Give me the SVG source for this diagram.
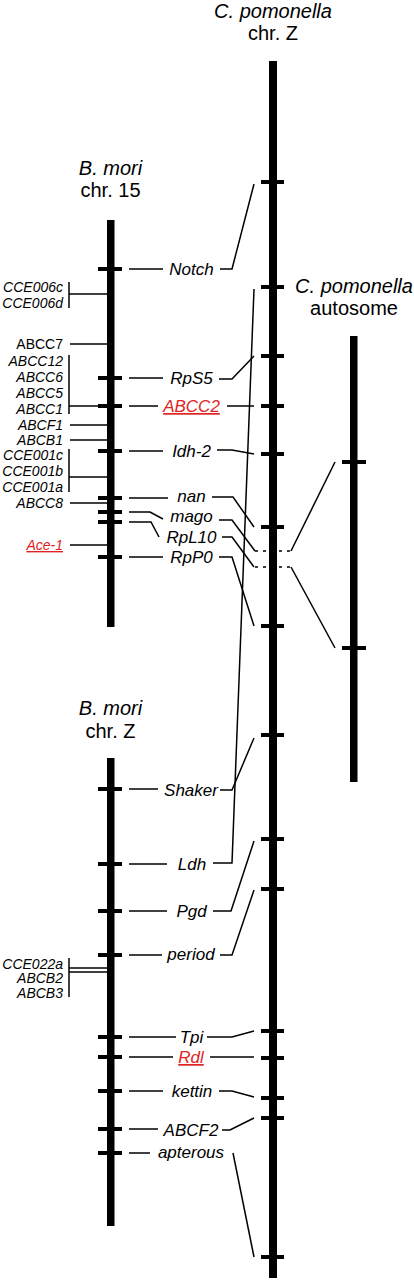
<svg xmlns="http://www.w3.org/2000/svg" width="414" height="1280" viewBox="0 0 414 1280">
<style>
.bar{fill:#000}
.tk{fill:#000}
.title{font-family:"Liberation Sans",Arial,sans-serif;font-size:20px;fill:#000;text-anchor:middle}
.it{font-style:italic}
.g{font-family:"Liberation Sans",Arial,sans-serif;font-size:17px;font-style:italic;fill:#000;text-anchor:middle}
.s{font-family:"Liberation Sans",Arial,sans-serif;font-size:14px;font-style:italic;fill:#000;text-anchor:end}
.up{font-style:normal}
.red{fill:#e02424;text-decoration:underline}
.ln{fill:none;stroke:#000;stroke-width:1.5}
.dash{fill:none;stroke:#000;stroke-width:1.5;stroke-dasharray:3,5}
</style>
<rect width="414" height="1280" fill="#fff"/>

<g id="cpom-z">
<text class="title" x="273" y="18"><tspan class="it">C. pomonella</tspan></text>
<text class="title" x="273" y="40">chr. Z</text>
<rect class="bar" x="269" y="61" width="8" height="1217"/>
<rect class="tk" x="261" y="180" width="23" height="4"/>
<rect class="tk" x="261" y="285" width="23" height="4"/>
<rect class="tk" x="261" y="354" width="23" height="4"/>
<rect class="tk" x="261" y="404" width="23" height="4"/>
<rect class="tk" x="261" y="452" width="23" height="4"/>
<rect class="tk" x="261" y="525" width="23" height="4"/>
<rect class="tk" x="261" y="624" width="23" height="4"/>
<rect class="tk" x="261" y="733" width="23" height="4"/>
<rect class="tk" x="261" y="837" width="23" height="4"/>
<rect class="tk" x="261" y="887" width="23" height="4"/>
<rect class="tk" x="261" y="1029" width="23" height="4"/>
<rect class="tk" x="261" y="1056" width="23" height="4"/>
<rect class="tk" x="261" y="1096" width="23" height="4"/>
<rect class="tk" x="261" y="1116" width="23" height="4"/>
<rect class="tk" x="261" y="1255" width="23" height="4"/>
</g>

<g id="cpom-auto">
<text class="title" x="354" y="293"><tspan class="it">C. pomonella</tspan></text>
<text class="title" x="354" y="315">autosome</text>
<rect class="bar" x="350" y="336" width="7.5" height="446"/>
<rect class="tk" x="342" y="460" width="24" height="4"/>
<rect class="tk" x="342" y="646" width="24" height="4"/>
</g>

<g id="bmori-15">
<text class="title" x="110.5" y="175"><tspan class="it">B. mori</tspan></text>
<text class="title" x="110.5" y="197">chr. 15</text>
<rect class="bar" x="107" y="220" width="7.5" height="407"/>
<rect class="tk" x="98" y="267" width="24" height="4"/>
<rect class="tk" x="98" y="376" width="24" height="4"/>
<rect class="tk" x="98" y="404" width="24" height="4"/>
<rect class="tk" x="98" y="449" width="24" height="4"/>
<rect class="tk" x="98" y="496" width="24" height="4"/>
<rect class="tk" x="98" y="510" width="24" height="4"/>
<rect class="tk" x="98" y="520" width="24" height="4"/>
<rect class="tk" x="98" y="555" width="24" height="4"/>
</g>

<g id="bmori-z">
<text class="title" x="110.5" y="715"><tspan class="it">B. mori</tspan></text>
<text class="title" x="110.5" y="738">chr. Z</text>
<rect class="bar" x="107" y="758" width="7.5" height="468"/>
<rect class="tk" x="98" y="787" width="24" height="4"/>
<rect class="tk" x="98" y="862" width="24" height="4"/>
<rect class="tk" x="98" y="909" width="24" height="4"/>
<rect class="tk" x="98" y="953" width="24" height="4"/>
<rect class="tk" x="98" y="1035" width="24" height="4"/>
<rect class="tk" x="98" y="1055" width="24" height="4"/>
<rect class="tk" x="98" y="1089" width="24" height="4"/>
<rect class="tk" x="98" y="1127" width="24" height="4"/>
<rect class="tk" x="98" y="1151" width="24" height="4"/>
</g>

<g id="bmori-15-left-labels">
<text class="s" x="63" y="292">CCE006c</text>
<text class="s" x="63" y="308">CCE006d</text>
<text class="s up" x="63" y="349">ABCC7</text>
<text class="s" x="63" y="366">ABCC12</text>
<text class="s" x="63" y="382">ABCC6</text>
<text class="s" x="63" y="398">ABCC5</text>
<text class="s" x="63" y="414">ABCC1</text>
<text class="s" x="63" y="430">ABCF1</text>
<text class="s" x="63" y="445">ABCB1</text>
<text class="s" x="63" y="460">CCE001c</text>
<text class="s" x="63" y="476">CCE001b</text>
<text class="s" x="63" y="492">CCE001a</text>
<text class="s" x="63" y="508">ABCC8</text>
<text class="s red" x="63" y="550">Ace-1</text>
</g>

<g id="bmori-z-left-labels">
<text class="s" x="63" y="969">CCE022a</text>
<text class="s" x="63" y="983">ABCB2</text>
<text class="s" x="63" y="998">ABCB3</text>
</g>

<g id="gene-labels">
<text class="g" x="191.5" y="275">Notch</text>
<text class="g" x="191.5" y="384">RpS5</text>
<text class="g red" x="191.5" y="412">ABCC2</text>
<text class="g" x="191.5" y="457">Idh-2</text>
<text class="g" x="191.5" y="502">nan</text>
<text class="g" x="191.5" y="522">mago</text>
<text class="g" x="191.5" y="543">RpL10</text>
<text class="g" x="191.5" y="563">RpP0</text>
<text class="g" x="191" y="796">Shaker</text>
<text class="g" x="192" y="870">Ldh</text>
<text class="g" x="191.5" y="917">Pgd</text>
<text class="g" x="191" y="960">period</text>
<text class="g" x="191.5" y="1043">Tpi</text>
<text class="g red" x="191" y="1063">Rdl</text>
<text class="g" x="192" y="1097">kettin</text>
<text class="g" x="191" y="1136">ABCF2</text>
<text class="g" x="191" y="1158">apterous</text>
</g>

<g id="connectors">
<!-- chr15 left brackets -->
<polyline class="ln" points="69,282 69,308"/>
<line class="ln" x1="69" y1="294" x2="107" y2="294"/>
<line class="ln" x1="70" y1="344" x2="107" y2="344"/>
<polyline class="ln" points="69,355 69,414"/>
<line class="ln" x1="69" y1="406" x2="107" y2="406"/>
<line class="ln" x1="70" y1="425" x2="107" y2="425"/>
<line class="ln" x1="70" y1="440" x2="107" y2="440"/>
<polyline class="ln" points="69,449 69,492"/>
<line class="ln" x1="69" y1="477" x2="107" y2="477"/>
<line class="ln" x1="70" y1="503" x2="107" y2="503"/>
<line class="ln" x1="70" y1="545" x2="107" y2="545"/>
<!-- chrZ left bracket -->
<polyline class="ln" points="69,958 69,997"/>
<line class="ln" x1="69" y1="968" x2="107" y2="968"/>
<line class="ln" x1="69" y1="972" x2="107" y2="972"/>

<!-- chr15 to labels -->
<line class="ln" x1="129" y1="269" x2="163" y2="269"/>
<line class="ln" x1="129" y1="378" x2="163" y2="378"/>
<line class="ln" x1="129" y1="406" x2="158" y2="406"/>
<line class="ln" x1="129" y1="451" x2="163" y2="451"/>
<line class="ln" x1="129" y1="498" x2="168" y2="498"/>
<polyline class="ln" points="129,512 150,512 163,519"/>
<polyline class="ln" points="129,522 151,522 159,537"/>
<line class="ln" x1="129" y1="557" x2="163" y2="557"/>

<!-- labels to C. pomonella Z (chr15) -->
<polyline class="ln" points="220,269 232,269 254,184"/>
<polyline class="ln" points="219,379 232,379 254,356"/>
<line class="ln" x1="227" y1="406" x2="254" y2="406"/>
<polyline class="ln" points="217,450 232,450 254,454"/>
<polyline class="ln" points="212,497 233,497 254,527"/>
<polyline class="ln" points="219,520 232,520 255,551"/>
<line class="dash" x1="255" y1="551" x2="292" y2="551"/>
<line class="ln" x1="291" y1="551" x2="335" y2="462"/>
<polyline class="ln" points="222,537 232,537 254,567"/>
<line class="dash" x1="255" y1="567" x2="292" y2="567"/>
<line class="ln" x1="291" y1="567" x2="335" y2="648"/>
<polyline class="ln" points="219,557 232,557 254,626"/>

<!-- chrZ to labels -->
<line class="ln" x1="129" y1="789" x2="158" y2="789"/>
<line class="ln" x1="129" y1="864" x2="167" y2="864"/>
<line class="ln" x1="129" y1="911" x2="167" y2="911"/>
<line class="ln" x1="129" y1="955" x2="162" y2="955"/>
<line class="ln" x1="129" y1="1037" x2="176" y2="1037"/>
<line class="ln" x1="129" y1="1057" x2="173" y2="1057"/>
<line class="ln" x1="129" y1="1091" x2="163" y2="1091"/>
<line class="ln" x1="129" y1="1129" x2="158" y2="1129"/>
<line class="ln" x1="129" y1="1153" x2="150" y2="1153"/>

<!-- labels to C. pomonella Z (chrZ) -->
<polyline class="ln" points="220,790 232,790 254,738"/>
<polyline class="ln" points="213,863 232,863 254,289"/>
<polyline class="ln" points="213,911 231,911 254,841"/>
<polyline class="ln" points="220,955 232,955 254,890"/>
<polyline class="ln" points="207,1037 232,1037 254,1031"/>
<line class="ln" x1="210" y1="1057" x2="254" y2="1057"/>
<polyline class="ln" points="219,1091 232,1091 254,1097"/>
<polyline class="ln" points="222,1130 230,1130 254,1118"/>
<line class="ln" x1="233" y1="1153" x2="254" y2="1257"/>
</g>
</svg>
